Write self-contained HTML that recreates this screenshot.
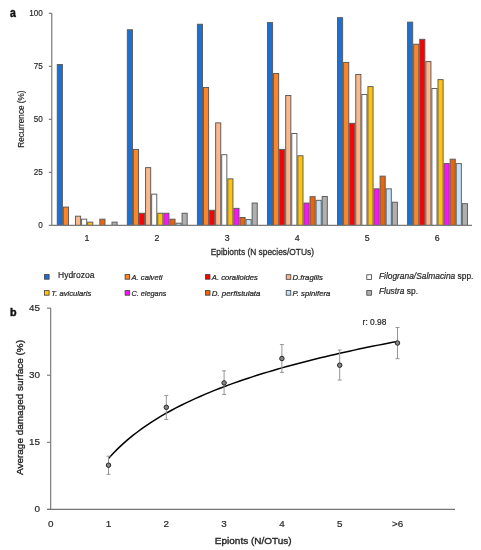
<!DOCTYPE html>
<html><head><meta charset="utf-8"><style>html,body{margin:0;padding:0;background:#fff;width:481px;height:550px;overflow:hidden}svg{display:block;will-change:transform}</style></head>
<body><svg width="481" height="550" viewBox="0 0 481 550" font-family='"Liberation Sans", sans-serif'><rect x="57.27" y="64.55" width="5.13" height="160.85" fill="#1e70d0" stroke="#5a5a5a" stroke-width="0.95"/>
<rect x="63.35" y="207.08" width="5.13" height="18.32" fill="#ff8426" stroke="#5a5a5a" stroke-width="0.95"/>
<rect x="75.51" y="216.20" width="5.13" height="9.20" fill="#fbb689" stroke="#5a5a5a" stroke-width="0.95"/>
<rect x="81.59" y="219.17" width="5.13" height="6.23" fill="#ffffff" stroke="#5a5a5a" stroke-width="0.95"/>
<rect x="87.67" y="222.14" width="5.13" height="3.26" fill="#ffc30a" stroke="#5a5a5a" stroke-width="0.95"/>
<rect x="99.83" y="219.17" width="5.13" height="6.23" fill="#e8650c" stroke="#5a5a5a" stroke-width="0.95"/>
<rect x="111.99" y="222.14" width="5.13" height="3.26" fill="#b0b0b0" stroke="#5a5a5a" stroke-width="0.95"/>
<rect x="127.33" y="29.77" width="5.13" height="195.63" fill="#1e70d0" stroke="#5a5a5a" stroke-width="0.95"/>
<rect x="133.41" y="149.39" width="5.13" height="76.01" fill="#ff8426" stroke="#5a5a5a" stroke-width="0.95"/>
<rect x="139.50" y="213.24" width="5.13" height="12.16" fill="#ff0000" stroke="#5a5a5a" stroke-width="0.95"/>
<rect x="145.57" y="167.63" width="5.13" height="57.77" fill="#fbb689" stroke="#5a5a5a" stroke-width="0.95"/>
<rect x="151.66" y="194.15" width="5.13" height="31.25" fill="#ffffff" stroke="#5a5a5a" stroke-width="0.95"/>
<rect x="157.73" y="213.24" width="5.13" height="12.16" fill="#ffc30a" stroke="#5a5a5a" stroke-width="0.95"/>
<rect x="163.81" y="213.24" width="5.13" height="12.16" fill="#ff10ff" stroke="#5a5a5a" stroke-width="0.95"/>
<rect x="169.90" y="219.17" width="5.13" height="6.23" fill="#e8650c" stroke="#5a5a5a" stroke-width="0.95"/>
<rect x="175.97" y="223.20" width="5.13" height="2.20" fill="#c3e2f8" stroke="#5a5a5a" stroke-width="0.95"/>
<rect x="182.05" y="213.24" width="5.13" height="12.16" fill="#b0b0b0" stroke="#5a5a5a" stroke-width="0.95"/>
<rect x="197.40" y="24.25" width="5.13" height="201.15" fill="#1e70d0" stroke="#5a5a5a" stroke-width="0.95"/>
<rect x="203.48" y="87.46" width="5.13" height="137.94" fill="#ff8426" stroke="#5a5a5a" stroke-width="0.95"/>
<rect x="209.56" y="210.27" width="5.13" height="15.13" fill="#ff0000" stroke="#5a5a5a" stroke-width="0.95"/>
<rect x="215.64" y="122.88" width="5.13" height="102.52" fill="#fbb689" stroke="#5a5a5a" stroke-width="0.95"/>
<rect x="221.72" y="154.70" width="5.13" height="70.70" fill="#ffffff" stroke="#5a5a5a" stroke-width="0.95"/>
<rect x="227.80" y="178.88" width="5.13" height="46.52" fill="#ffc30a" stroke="#5a5a5a" stroke-width="0.95"/>
<rect x="233.88" y="208.36" width="5.13" height="17.04" fill="#ff10ff" stroke="#5a5a5a" stroke-width="0.95"/>
<rect x="239.96" y="217.48" width="5.13" height="7.92" fill="#e8650c" stroke="#5a5a5a" stroke-width="0.95"/>
<rect x="246.03" y="219.60" width="5.13" height="5.80" fill="#c3e2f8" stroke="#5a5a5a" stroke-width="0.95"/>
<rect x="252.12" y="203.05" width="5.13" height="22.35" fill="#b0b0b0" stroke="#5a5a5a" stroke-width="0.95"/>
<rect x="267.46" y="22.56" width="5.13" height="202.84" fill="#1e70d0" stroke="#5a5a5a" stroke-width="0.95"/>
<rect x="273.54" y="73.46" width="5.13" height="151.94" fill="#ff8426" stroke="#5a5a5a" stroke-width="0.95"/>
<rect x="279.62" y="149.39" width="5.13" height="76.01" fill="#ff0000" stroke="#5a5a5a" stroke-width="0.95"/>
<rect x="285.70" y="95.52" width="5.13" height="129.88" fill="#fbb689" stroke="#5a5a5a" stroke-width="0.95"/>
<rect x="291.78" y="133.49" width="5.13" height="91.91" fill="#ffffff" stroke="#5a5a5a" stroke-width="0.95"/>
<rect x="297.86" y="155.76" width="5.13" height="69.64" fill="#ffc30a" stroke="#5a5a5a" stroke-width="0.95"/>
<rect x="303.94" y="203.05" width="5.13" height="22.35" fill="#ff10ff" stroke="#5a5a5a" stroke-width="0.95"/>
<rect x="310.02" y="196.69" width="5.13" height="28.71" fill="#e8650c" stroke="#5a5a5a" stroke-width="0.95"/>
<rect x="316.10" y="200.30" width="5.13" height="25.10" fill="#c3e2f8" stroke="#5a5a5a" stroke-width="0.95"/>
<rect x="322.18" y="196.48" width="5.13" height="28.92" fill="#b0b0b0" stroke="#5a5a5a" stroke-width="0.95"/>
<rect x="337.52" y="17.68" width="5.13" height="207.72" fill="#1e70d0" stroke="#5a5a5a" stroke-width="0.95"/>
<rect x="343.60" y="62.43" width="5.13" height="162.97" fill="#ff8426" stroke="#5a5a5a" stroke-width="0.95"/>
<rect x="349.68" y="123.30" width="5.13" height="102.10" fill="#ff0000" stroke="#5a5a5a" stroke-width="0.95"/>
<rect x="355.76" y="74.52" width="5.13" height="150.88" fill="#fbb689" stroke="#5a5a5a" stroke-width="0.95"/>
<rect x="361.84" y="94.46" width="5.13" height="130.94" fill="#ffffff" stroke="#5a5a5a" stroke-width="0.95"/>
<rect x="367.92" y="86.61" width="5.13" height="138.79" fill="#ffc30a" stroke="#5a5a5a" stroke-width="0.95"/>
<rect x="374.00" y="188.84" width="5.13" height="36.56" fill="#ff10ff" stroke="#5a5a5a" stroke-width="0.95"/>
<rect x="380.08" y="176.12" width="5.13" height="49.28" fill="#e8650c" stroke="#5a5a5a" stroke-width="0.95"/>
<rect x="386.16" y="188.84" width="5.13" height="36.56" fill="#c3e2f8" stroke="#5a5a5a" stroke-width="0.95"/>
<rect x="392.24" y="202.21" width="5.13" height="23.19" fill="#b0b0b0" stroke="#5a5a5a" stroke-width="0.95"/>
<rect x="407.58" y="22.13" width="5.13" height="203.27" fill="#1e70d0" stroke="#5a5a5a" stroke-width="0.95"/>
<rect x="413.66" y="44.19" width="5.13" height="181.21" fill="#ff8426" stroke="#5a5a5a" stroke-width="0.95"/>
<rect x="419.74" y="39.31" width="5.13" height="186.09" fill="#ff0000" stroke="#5a5a5a" stroke-width="0.95"/>
<rect x="425.82" y="61.58" width="5.13" height="163.82" fill="#fbb689" stroke="#5a5a5a" stroke-width="0.95"/>
<rect x="431.90" y="88.52" width="5.13" height="136.88" fill="#ffffff" stroke="#5a5a5a" stroke-width="0.95"/>
<rect x="437.98" y="79.61" width="5.13" height="145.79" fill="#ffc30a" stroke="#5a5a5a" stroke-width="0.95"/>
<rect x="444.06" y="163.60" width="5.13" height="61.80" fill="#ff10ff" stroke="#5a5a5a" stroke-width="0.95"/>
<rect x="450.14" y="159.15" width="5.13" height="66.25" fill="#e8650c" stroke="#5a5a5a" stroke-width="0.95"/>
<rect x="456.22" y="163.60" width="5.13" height="61.80" fill="#c3e2f8" stroke="#5a5a5a" stroke-width="0.95"/>
<rect x="462.30" y="203.69" width="5.13" height="21.71" fill="#b0b0b0" stroke="#5a5a5a" stroke-width="0.95"/>
<line x1="51.8" y1="13.3" x2="51.8" y2="225.4" stroke="#7a7a7a" stroke-width="1.2"/>
<line x1="51.8" y1="225.4" x2="472" y2="225.4" stroke="#7a7a7a" stroke-width="1.2"/>
<line x1="48.8" y1="225.40" x2="51.8" y2="225.40" stroke="#7a7a7a" stroke-width="1.2"/>
<text transform="translate(42.90,228.00) scale(0.89,1)" font-size="9.2" fill="#262626" stroke="#262626" stroke-width="0.18" text-anchor="end">0</text>
<line x1="48.8" y1="172.38" x2="51.8" y2="172.38" stroke="#7a7a7a" stroke-width="1.2"/>
<text transform="translate(42.90,174.97) scale(0.89,1)" font-size="9.2" fill="#262626" stroke="#262626" stroke-width="0.18" text-anchor="end">25</text>
<line x1="48.8" y1="119.35" x2="51.8" y2="119.35" stroke="#7a7a7a" stroke-width="1.2"/>
<text transform="translate(42.90,121.95) scale(0.89,1)" font-size="9.2" fill="#262626" stroke="#262626" stroke-width="0.18" text-anchor="end">50</text>
<line x1="48.8" y1="66.33" x2="51.8" y2="66.33" stroke="#7a7a7a" stroke-width="1.2"/>
<text transform="translate(42.90,68.93) scale(0.89,1)" font-size="9.2" fill="#262626" stroke="#262626" stroke-width="0.18" text-anchor="end">75</text>
<line x1="48.8" y1="13.30" x2="51.8" y2="13.30" stroke="#7a7a7a" stroke-width="1.2"/>
<text transform="translate(42.90,15.90) scale(0.89,1)" font-size="9.2" fill="#262626" stroke="#262626" stroke-width="0.18" text-anchor="end">100</text>
<text transform="translate(87.00,240.80) scale(1.0,1)" font-size="8.8" fill="#262626" stroke="#262626" stroke-width="0.2" text-anchor="middle">1</text>
<text transform="translate(157.06,240.80) scale(1.0,1)" font-size="8.8" fill="#262626" stroke="#262626" stroke-width="0.2" text-anchor="middle">2</text>
<text transform="translate(227.12,240.80) scale(1.0,1)" font-size="8.8" fill="#262626" stroke="#262626" stroke-width="0.2" text-anchor="middle">3</text>
<text transform="translate(297.18,240.80) scale(1.0,1)" font-size="8.8" fill="#262626" stroke="#262626" stroke-width="0.2" text-anchor="middle">4</text>
<text transform="translate(367.24,240.80) scale(1.0,1)" font-size="8.8" fill="#262626" stroke="#262626" stroke-width="0.2" text-anchor="middle">5</text>
<text transform="translate(437.30,240.80) scale(1.0,1)" font-size="8.8" fill="#262626" stroke="#262626" stroke-width="0.2" text-anchor="middle">6</text>
<text transform="translate(262.30,255.10) scale(0.975,1)" font-size="8.6" fill="#262626" stroke="#262626" stroke-width="0.25" text-anchor="middle">Epibionts (N species/OTUs)</text>
<text transform="translate(23.60,119.10) rotate(-90) scale(0.89,1)" font-size="9.2" fill="#262626" stroke="#262626" stroke-width="0.2" text-anchor="middle">Recurrence (%)</text>
<text transform="translate(10.10,16.80) scale(0.86,1)" font-size="12.2" fill="#111" stroke="#111" stroke-width="0.45" font-weight="bold">a</text>
<rect x="44.50" y="274.60" width="4.60" height="4.60" fill="#1e70d0" stroke="#3c3c3c" stroke-width="0.8"/>
<rect x="125.10" y="274.60" width="4.60" height="4.60" fill="#ff8426" stroke="#3c3c3c" stroke-width="0.8"/>
<rect x="205.40" y="274.60" width="4.60" height="4.60" fill="#ff0000" stroke="#3c3c3c" stroke-width="0.8"/>
<rect x="286.20" y="274.70" width="4.60" height="4.60" fill="#fbb689" stroke="#3c3c3c" stroke-width="0.8"/>
<rect x="366.80" y="274.80" width="4.60" height="4.60" fill="#ffffff" stroke="#3c3c3c" stroke-width="0.8"/>
<rect x="44.50" y="290.60" width="4.60" height="4.60" fill="#ffc30a" stroke="#3c3c3c" stroke-width="0.8"/>
<rect x="125.10" y="290.60" width="4.60" height="4.60" fill="#ff10ff" stroke="#3c3c3c" stroke-width="0.8"/>
<rect x="205.40" y="290.60" width="4.60" height="4.60" fill="#e8650c" stroke="#3c3c3c" stroke-width="0.8"/>
<rect x="286.20" y="290.60" width="4.60" height="4.60" fill="#c3e2f8" stroke="#3c3c3c" stroke-width="0.8"/>
<rect x="366.80" y="290.60" width="4.60" height="4.60" fill="#b0b0b0" stroke="#3c3c3c" stroke-width="0.8"/>
<text transform="translate(58.00,278.30) scale(1.0,1)" font-size="8.5" fill="#262626" stroke="#262626" stroke-width="0.2">Hydrozoa</text>
<text transform="translate(131.50,280.20) scale(0.97,1)" font-size="7.9" fill="#262626" stroke="#262626" stroke-width="0.22" font-style="italic">A. calveti</text>
<text transform="translate(211.75,280.20) scale(0.975,1)" font-size="7.9" fill="#262626" stroke="#262626" stroke-width="0.22" font-style="italic">A. coralloides</text>
<text transform="translate(292.50,280.20) scale(0.99,1)" font-size="7.9" fill="#262626" stroke="#262626" stroke-width="0.22" font-style="italic">D.fragilis</text>
<text transform="translate(378.90,278.80) scale(1.0,1)" font-size="8.4" fill="#262626" stroke="#262626" stroke-width="0.2"><tspan font-style="italic">Filograna/Salmacina</tspan> spp.</text>
<text transform="translate(51.25,295.50) scale(0.97,1)" font-size="7.9" fill="#262626" stroke="#262626" stroke-width="0.22" font-style="italic">T. avicularis</text>
<text transform="translate(131.50,295.60) scale(0.925,1)" font-size="7.9" fill="#262626" stroke="#262626" stroke-width="0.22" font-style="italic">C. elegans</text>
<text transform="translate(211.75,295.60) scale(1.0,1)" font-size="7.9" fill="#262626" stroke="#262626" stroke-width="0.22" font-style="italic">D. perfistulata</text>
<text transform="translate(292.50,295.60) scale(0.985,1)" font-size="7.9" fill="#262626" stroke="#262626" stroke-width="0.22" font-style="italic">P. spinifera</text>
<text transform="translate(378.90,294.30) scale(1.0,1)" font-size="8.4" fill="#262626" stroke="#262626" stroke-width="0.2"><tspan font-style="italic">Flustra</tspan> sp.</text>
<text transform="translate(9.90,316.40) scale(0.98,1)" font-size="11" fill="#111" stroke="#111" stroke-width="0.45" font-weight="bold">b</text>
<line x1="50.7" y1="308.12" x2="50.7" y2="509.4" stroke="#747474" stroke-width="1.1"/>
<line x1="47" y1="509.4" x2="455" y2="509.4" stroke="#747474" stroke-width="1.1"/>
<line x1="47" y1="509.40" x2="50.7" y2="509.40" stroke="#747474" stroke-width="1.1"/>
<text transform="translate(40.10,512.40) scale(1.0,1)" font-size="9.9" fill="#262626" stroke="#262626" stroke-width="0.2" text-anchor="end">0</text>
<line x1="47" y1="442.30" x2="50.7" y2="442.30" stroke="#747474" stroke-width="1.1"/>
<text transform="translate(40.10,445.30) scale(1.0,1)" font-size="9.9" fill="#262626" stroke="#262626" stroke-width="0.2" text-anchor="end">15</text>
<line x1="47" y1="375.21" x2="50.7" y2="375.21" stroke="#747474" stroke-width="1.1"/>
<text transform="translate(40.10,378.21) scale(1.0,1)" font-size="9.9" fill="#262626" stroke="#262626" stroke-width="0.2" text-anchor="end">30</text>
<line x1="47" y1="308.12" x2="50.7" y2="308.12" stroke="#747474" stroke-width="1.1"/>
<text transform="translate(40.10,311.12) scale(1.0,1)" font-size="9.9" fill="#262626" stroke="#262626" stroke-width="0.2" text-anchor="end">45</text>
<text transform="translate(50.70,527.20) scale(1.0,1)" font-size="9.9" fill="#262626" stroke="#262626" stroke-width="0.2" text-anchor="middle">0</text>
<text transform="translate(108.50,527.20) scale(1.0,1)" font-size="9.9" fill="#262626" stroke="#262626" stroke-width="0.2" text-anchor="middle">1</text>
<text transform="translate(166.30,527.20) scale(1.0,1)" font-size="9.9" fill="#262626" stroke="#262626" stroke-width="0.2" text-anchor="middle">2</text>
<text transform="translate(224.10,527.20) scale(1.0,1)" font-size="9.9" fill="#262626" stroke="#262626" stroke-width="0.2" text-anchor="middle">3</text>
<text transform="translate(281.90,527.20) scale(1.0,1)" font-size="9.9" fill="#262626" stroke="#262626" stroke-width="0.2" text-anchor="middle">4</text>
<text transform="translate(339.70,527.20) scale(1.0,1)" font-size="9.9" fill="#262626" stroke="#262626" stroke-width="0.2" text-anchor="middle">5</text>
<text transform="translate(397.50,527.20) scale(1.0,1)" font-size="9.9" fill="#262626" stroke="#262626" stroke-width="0.2" text-anchor="middle">&gt;6</text>
<text transform="translate(253.20,543.90) scale(1.02,1)" font-size="9.8" fill="#262626" stroke="#262626" stroke-width="0.36" text-anchor="middle">Epionts (N/OTus)</text>
<text transform="translate(22.90,407.50) rotate(-90) scale(1.04,1)" font-size="9.6" fill="#262626" stroke="#262626" stroke-width="0.36" text-anchor="middle">Average damaged surface (%)</text>
<polyline points="108.50,458.47 113.32,453.24 118.13,448.40 122.95,443.89 127.77,439.67 132.58,435.71 137.40,431.98 142.22,428.44 147.03,425.09 151.85,421.90 156.67,418.86 161.48,415.96 166.30,413.18 171.12,410.51 175.93,407.95 180.75,405.48 185.57,403.10 190.38,400.81 195.20,398.59 200.02,396.45 204.83,394.38 209.65,392.37 214.47,390.42 219.28,388.52 224.10,386.68 228.92,384.89 233.73,383.15 238.55,381.45 243.37,379.80 248.18,378.18 253.00,376.61 257.82,375.07 262.63,373.57 267.45,372.10 272.27,370.66 277.08,369.26 281.90,367.88 286.72,366.53 291.53,365.21 296.35,363.92 301.17,362.65 305.98,361.41 310.80,360.19 315.62,358.99 320.43,357.81 325.25,356.65 330.07,355.52 334.88,354.40 339.70,353.30 344.52,352.22 349.33,351.16 354.15,350.11 358.97,349.08 363.78,348.07 368.60,347.07 373.42,346.09 378.23,345.12 383.05,344.17 387.87,343.23 392.68,342.30 397.50,341.39" fill="none" stroke="#000" stroke-width="1.5"/>
<g stroke="#959595" stroke-width="1"><line x1="108.50" y1="456.20" x2="108.50" y2="474.30"/><line x1="106.50" y1="456.20" x2="110.50" y2="456.20"/><line x1="106.50" y1="474.30" x2="110.50" y2="474.30"/></g>
<g stroke="#959595" stroke-width="1"><line x1="166.30" y1="395.40" x2="166.30" y2="419.40"/><line x1="164.30" y1="395.40" x2="168.30" y2="395.40"/><line x1="164.30" y1="419.40" x2="168.30" y2="419.40"/></g>
<g stroke="#959595" stroke-width="1"><line x1="224.10" y1="370.80" x2="224.10" y2="394.40"/><line x1="222.10" y1="370.80" x2="226.10" y2="370.80"/><line x1="222.10" y1="394.40" x2="226.10" y2="394.40"/></g>
<g stroke="#959595" stroke-width="1"><line x1="281.90" y1="344.60" x2="281.90" y2="372.40"/><line x1="279.90" y1="344.60" x2="283.90" y2="344.60"/><line x1="279.90" y1="372.40" x2="283.90" y2="372.40"/></g>
<g stroke="#959595" stroke-width="1"><line x1="339.70" y1="350.00" x2="339.70" y2="380.00"/><line x1="337.70" y1="350.00" x2="341.70" y2="350.00"/><line x1="337.70" y1="380.00" x2="341.70" y2="380.00"/></g>
<g stroke="#959595" stroke-width="1"><line x1="397.50" y1="327.50" x2="397.50" y2="358.70"/><line x1="395.50" y1="327.50" x2="399.50" y2="327.50"/><line x1="395.50" y1="358.70" x2="399.50" y2="358.70"/></g>
<circle cx="108.50" cy="465.20" r="2.25" fill="#858585" stroke="#262626" stroke-width="1"/>
<circle cx="166.30" cy="407.30" r="2.25" fill="#858585" stroke="#262626" stroke-width="1"/>
<circle cx="224.10" cy="382.90" r="2.25" fill="#858585" stroke="#262626" stroke-width="1"/>
<circle cx="281.90" cy="358.50" r="2.25" fill="#858585" stroke="#262626" stroke-width="1"/>
<circle cx="339.70" cy="365.20" r="2.25" fill="#858585" stroke="#262626" stroke-width="1"/>
<circle cx="397.50" cy="343.00" r="2.25" fill="#858585" stroke="#262626" stroke-width="1"/>
<text transform="translate(362.60,325.00) scale(1.0,1)" font-size="8.4" fill="#262626" stroke="#262626" stroke-width="0.2">r: 0.98</text></svg></body></html>
